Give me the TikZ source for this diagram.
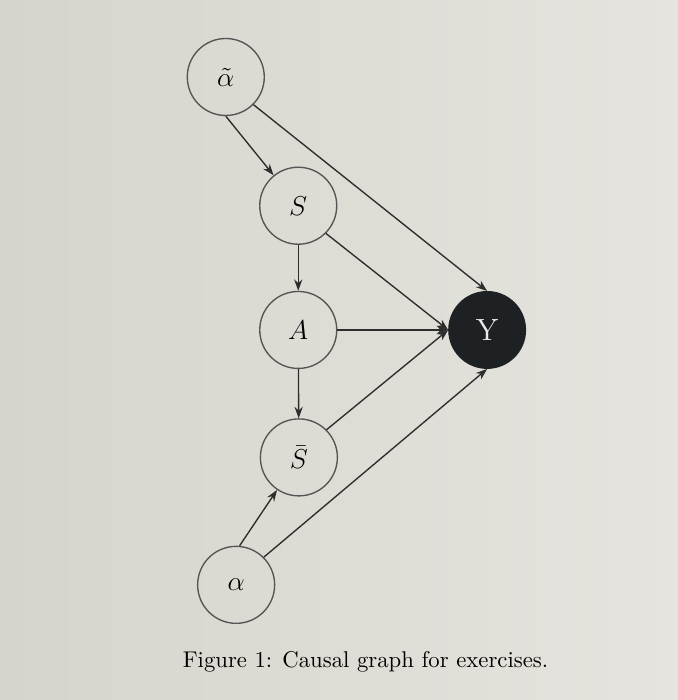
\documentclass[tikz,border=0pt]{standalone}
\usepackage{amsmath}
\usepackage{amssymb}
\usepackage{xcolor}
\usepackage{tikz}
\usetikzlibrary{arrows.meta}

\definecolor{paperL}{RGB}{214,212,204}
\definecolor{paperR}{RGB}{229,228,222}
\definecolor{ink}{RGB}{45,45,45}
\definecolor{ring}{RGB}{85,85,85}
\definecolor{dark}{RGB}{30,33,35}

\begin{document}
\begin{tikzpicture}[>={Stealth[length=5pt,width=3.6pt]},
  var/.style={circle,draw=ring,line width=0.6pt,minimum size=1.19cm,inner sep=0pt,font=\fontsize{12.5}{14}\selectfont},
  outcome/.style={circle,draw=dark,fill=dark,text=white!92!black,minimum size=1.19cm,inner sep=0pt,font=\fontsize{13.5}{15}\selectfont},
  edge/.style={->,draw=ink,line width=0.6pt}]
\shade[left color=paperL,right color=paperR] (0,0) rectangle (10.48,-10.82);
\useasboundingbox (0,0) rectangle (10.48,-10.82);
% nodes
\node[var] (atilde) at (3.49,-1.19) {$\tilde{\alpha}$};
\node[var] (s) at (4.61,-3.18) {$S$};
\node[var] (a) at (4.61,-5.10) {$A$};
\node[var] (sbar) at (4.62,-7.07) {$\bar{S}$};
\node[var] (alpha) at (3.65,-9.04) {$\alpha$};
\node[outcome] (y) at (7.53,-5.10) {Y};
% edges
\draw[edge] (atilde.south) -- (s);
\draw[edge] (atilde.south east) -- (y.north);
\draw[edge] (s) -- (a);
\draw[edge] (a) -- (sbar);
\draw[edge] (s.south east) -- (y.west);
\draw[edge] (a) -- (y.west);
\draw[edge] (sbar.north east) -- (y.west);
\draw[edge] (alpha.85) -- (sbar);
\draw[edge] (alpha.north east) -- (y.south);
% caption
\node (caption) at (5.65,-10.23) {Figure 1: Causal graph for exercises.};
\end{tikzpicture}
\end{document}
